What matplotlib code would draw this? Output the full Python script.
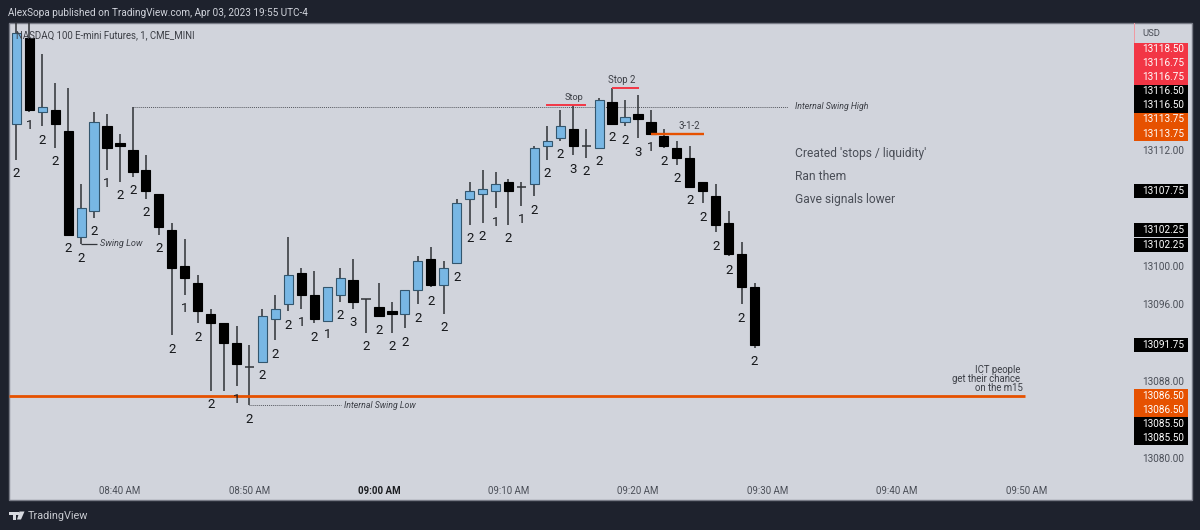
import matplotlib
matplotlib.use("Agg")
import matplotlib.pyplot as plt
from matplotlib.patches import Rectangle, Polygon

plt.rcParams['font.family'] = ['Roboto', 'DejaVu Sans']

W, H = 1200, 530
BG = '#1e222d'
PANEL = '#d1d4dc'
BLUE = '#78b7e4'
BLUE_EDGE = '#33566e'
BLACK = '#000000'
WICK = '#2f3236'
ORANGE = '#e65100'
RED = '#f23645'
GREY = '#4a4e57'

# minute of the hour after 08:00 for the first bar is 32
first_minute = 32
opens = [114.75,123.75,116.0,116.25,114.0,103.0,105.75,114.5,112.75,112.0,110.0,107.5,103.75,100.0,98.25,95.0,
         94.0,92.0,89.5,90.0,94.5,96.0,99.25,97.0,94.25,97.0,98.5,96.5,95.75,95.25,95.0,97.5,100.75,98.0,
         100.25,107.0,107.5,107.75,108.75,108.25,108.5,112.5,113.25,114.25,112.5,112.25,117.0,115.0,115.75,
         115.0,113.5,112.25,111.25,108.75,107.25,104.5,101.25,97.75]
highs = [127.0,127.0,122.0,119.0,118.5,108.5,116.0,115.75,113.75,116.5,111.5,107.5,104.5,102.75,99.0,95.5,
         94.0,93.75,91.75,95.5,97.0,103.0,99.75,99.5,97.75,99.75,100.75,96.5,98.25,96.25,97.5,101.0,102.0,100.5,
         107.0,108.75,110.0,109.75,109.0,108.75,112.5,114.5,116.25,116.75,114.25,117.5,118.5,117.25,117.75,
         116.25,114.25,113.0,112.5,108.75,108.5,105.75,102.5,98.25]
lows = [111.0,116.0,114.5,112.25,103.25,102.25,105.0,110.0,108.75,109.25,107.0,103.25,92.75,97.0,94.0,87.0,
        87.0,87.5,85.5,90.0,92.25,95.25,95.5,94.0,94.25,96.25,95.5,93.0,94.75,93.0,93.5,96.0,97.75,95.0,
        100.25,104.25,104.5,106.0,104.25,106.25,107.25,111.0,113.0,111.5,111.25,112.25,114.75,114.5,113.25,
        113.75,112.25,110.5,108.25,106.5,103.5,101.0,96.0,91.5]
closes = [124.25,116.25,116.5,114.75,103.25,106.0,115.0,112.25,112.5,109.75,107.75,104.0,99.75,98.75,95.25,94.0,
          92.0,89.75,89.5,94.75,95.5,99.0,97.0,94.5,97.75,98.75,96.25,96.5,94.75,95.0,97.5,100.5,98.0,99.75,
          106.5,107.75,108.0,108.5,107.75,108.25,112.25,113.0,114.5,112.5,112.5,117.25,114.75,115.5,115.25,
          113.75,112.5,111.25,108.25,107.75,104.25,101.25,97.75,91.75]
price_base = 13000
bar_counts = ['2','1','2','2','2','2','2','1','2','2','2','2','2','1','2','2','','1','2','2','2','2','1','2','1',
              '2','3','2','2','2','2','2','2','2','2','2','2','1','2','1','2','2','2','3','2','2','2','2','3','1',
              '2','2','2','2','2','2','2','2']

y_ticks = [13112, 13100, 13096, 13088, 13080]
x_ticks = [40, 50, 60, 70, 80, 90, 100, 110]
x_tick_labels = ['08:40 AM', '08:50 AM', '09:00 AM', '09:10 AM', '09:20 AM', '09:30 AM', '09:40 AM', '09:50 AM']

swing_high = 13116.5
swing_low = 13085.5
minor_low = 13102.25
support = 13086.5
stop_one = 13116.75
stop_two = 13118.5
three_one_two = 13113.75

tag_texts = ['13118.50', '13116.75', '13116.75', '13116.50', '13116.50', '13113.75', '13113.75', '13107.75',
             '13102.25', '13102.25', '13091.75', '13086.50', '13086.50', '13085.50', '13085.50']
tag_colors = [RED, RED, RED, BLACK, BLACK, ORANGE, ORANGE, BLACK, BLACK, BLACK, BLACK, ORANGE, ORANGE, BLACK, BLACK]
tag_rows = [49.5, 63.5, 77.5, 91.5, 105.5, 119.5, 134, 191, 230, 244.5, 345, 396, 410, 424, 438]

fig = plt.figure(figsize=(W / 100, H / 100), dpi=100, facecolor=BG)


def fx(x):
    return x / W


def fy(y):
    return 1 - y / H


def ftext(x, y, s, **kw):
    kw.setdefault('va', 'center')
    kw.setdefault('ha', 'left')
    return fig.text(fx(x), fy(y), s, **kw)


# panel behind everything
fig.add_artist(Rectangle((fx(8.5), fy(500)), 1183 / W, 477.5 / H, transform=fig.transFigure,
                         facecolor=PANEL, edgecolor='#787b86', lw=1, zorder=-5))

# main plot: 12.95 px per minute, 9.61 px per point
ax = fig.add_axes([fx(9), fy(478), 1125 / W, 455 / H])
ax.set_facecolor('none')
ax.set_xlim(40 - 111 / 12.95, 40 + 1014 / 12.95)
ax.set_ylim(13112 - 327.5 / 9.61, 13112 + 127.5 / 9.61)
for s in ax.spines.values():
    s.set_visible(False)

bw = 9.2 / 12.95
for i, (o, h, l, c, n) in enumerate(zip(opens, highs, lows, closes, bar_counts)):
    t = first_minute + i
    o, h, l, c = o + price_base, h + price_base, l + price_base, c + price_base
    up = c > o
    ax.vlines(t, l, h, color=WICK, lw=1.1, zorder=3)
    if o == c:
        ax.hlines(o, t - bw / 2, t + bw / 2, color=WICK, lw=1.1, zorder=4)
    else:
        ax.bar(t, abs(c - o), bottom=min(o, c), width=bw, zorder=4,
               facecolor=BLUE if up else BLACK, edgecolor=BLUE_EDGE if up else BLACK, linewidth=0.8)
    if n:
        ax.annotate(n, (t, l), xytext=(0, -10), textcoords='offset points', ha='center', va='center',
                    fontsize=9.5, color='#15171a', zorder=6, annotation_clip=False)

# drawings
ax.hlines(support, 31.4, 109.9, color=ORANGE, lw=2.0, zorder=5)
ax.hlines(swing_high, 41, 91.6, color='#55585f', lw=0.7, linestyles=(0, (1, 1)), zorder=2)
ax.hlines(swing_low, 50, 57.1, color='#55585f', lw=0.7, linestyles=(0, (1, 1)), zorder=2)
ax.hlines(minor_low, 37, 38.2, color='#33363c', lw=0.9, zorder=2)
ax.hlines(stop_one, 72.9, 76, color=RED, lw=1.4, zorder=5)
ax.hlines(stop_two, 78, 80.1, color=RED, lw=1.4, zorder=5)
ax.hlines(three_one_two, 81, 85.1, color=ORANGE, lw=1.7, zorder=5)

ax.set_yticks(y_ticks)
ax.set_yticklabels([f'{v:.2f}' for v in y_ticks])
ax.yaxis.tick_right()
ax.tick_params(axis='y', length=0, pad=5.6, labelsize=7.2, labelcolor=GREY)
ax.set_xticks(x_ticks)
ax.set_xticklabels(x_tick_labels)
ax.tick_params(axis='x', length=0, pad=5.5, labelsize=7.0, labelcolor=GREY)
ax.get_xticklabels()[2].set_fontweight('bold')
ax.get_xticklabels()[2].set_color('#1a1c20')

# header / legend / footer text
ftext(8, 13, 'AlexSopa published on TradingView.com, Apr 03, 2023 19:55 UTC-4', fontsize=7.2, color='#d1d4dc')
ftext(16, 35, 'NASDAQ 100 E-mini Futures, 1, CME_MINI', fontsize=6.95, color='#3c3f46', zorder=8)
ftext(1142, 33, 'USD', fontsize=6.8, color=GREY)
ftext(28, 516, 'TradingView', fontsize=7.8, color='#c8cad0')

# annotations
ftext(100, 243.5, 'Swing Low', fontsize=6.6, style='italic', color='#3c3f46')
ftext(344, 405, 'Internal Swing Low', fontsize=6.3, style='italic', color='#3c3f46')
ftext(795, 106.5, 'Internal Swing High', fontsize=6.3, style='italic', color='#3c3f46')
ftext(574, 97, 'Stop', fontsize=6.6, ha='center', color='#3c3f46')
ftext(622, 80, 'Stop 2', fontsize=6.9, ha='center', color='#3c3f46')
ftext(689, 126, '3-1-2', fontsize=6.9, ha='center', color='#3c3f46')
ftext(795, 153, "Created 'stops / liquidity'", fontsize=8.65, color='#4a4e57')
ftext(795, 176.5, 'Ran them', fontsize=8.65, color='#4a4e57')
ftext(795, 200, 'Gave signals lower', fontsize=8.65, color='#4a4e57')
ftext(1020.5, 369.7, 'ICT people', fontsize=6.9, ha='right', color='#3c3f46')
ftext(1020.5, 379, 'get their chance', fontsize=6.9, ha='right', color='#3c3f46')
ftext(1023, 387.7, 'on the m15', fontsize=6.9, ha='right', color='#3c3f46')

# price tags on the scale
fig.add_artist(Rectangle((fx(1134), fy(45)), 1.2 / W, 22 / H, transform=fig.transFigure,
                         facecolor='#ef9aa2', edgecolor='none'))
for txt, col, row in zip(tag_texts, tag_colors, tag_rows):
    fig.add_artist(Rectangle((fx(1134), fy(row + 7)), 53.5 / W, 14 / H, transform=fig.transFigure,
                             facecolor=col, edgecolor='none', zorder=6))
    ftext(1163, row, txt, fontsize=7.2, ha='center', color='white', zorder=7)

# logo
logo = [Polygon([(fx(9), fy(511.5)), (fx(16), fy(511.5)), (fx(16), fy(519.5)), (fx(12.6), fy(519.5)),
                 (fx(12.6), fy(514.5)), (fx(9), fy(514.5))]),
        Rectangle((fx(16.3), fy(514.5)), 2.6 / W, 3 / H),
        Polygon([(fx(19.5), fy(511.5)), (fx(24.5), fy(511.5)), (fx(21), fy(519.5)), (fx(17), fy(519.5))])]
for p in logo:
    p.set_transform(fig.transFigure)
    p.set_facecolor('#d8dae0')
    p.set_edgecolor('none')
    fig.add_artist(p)

fig.savefig('out.png', dpi=100, facecolor=BG)
